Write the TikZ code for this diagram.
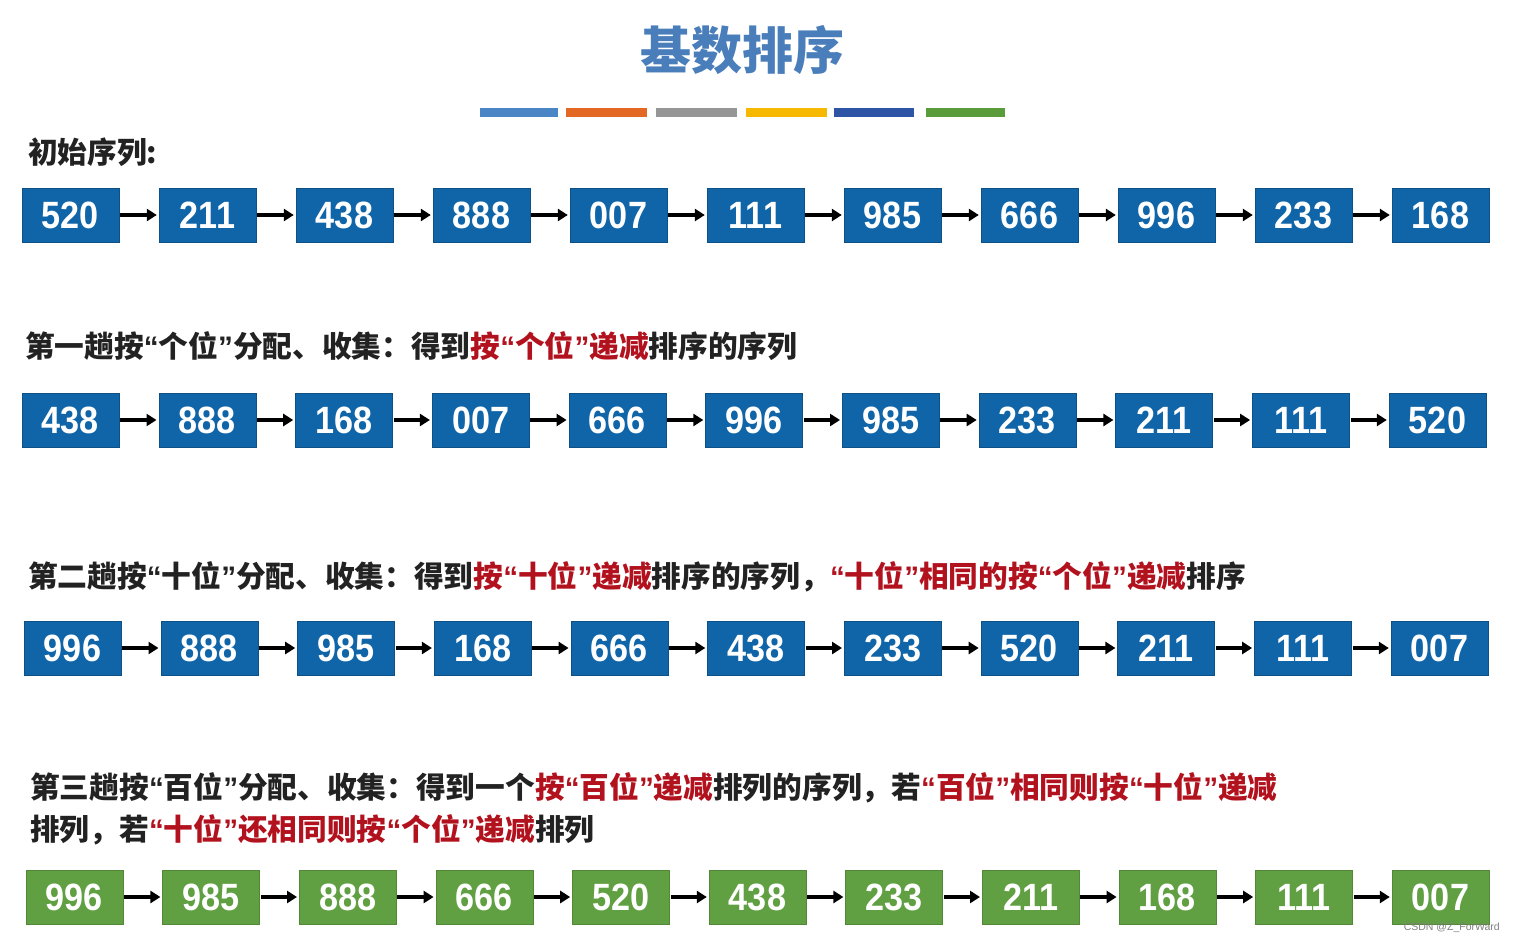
\documentclass[tikz,border=0pt]{standalone}
\usepackage{fontspec}
\setmainfont{Liberation Sans}
\newfontfamily\cjk{Noto Sans CJK SC}
\newfontfamily\numfont{Liberation Sans}[FakeStretch=0.9]
\usetikzlibrary{arrows.meta}
\definecolor{boxblue}{RGB}{16,101,168}
\definecolor{boxgreen}{RGB}{96,160,66}
\definecolor{keyred}{RGB}{178,18,30}
\definecolor{titleblue}{RGB}{74,126,187}
\definecolor{txtdark}{RGB}{34,34,34}
\newcommand{\hl}[1]{\textcolor{keyred}{#1}}
\newcommand{\oq}{{\rmfamily“}}
\newcommand{\cq}{{\rmfamily”}}

\begin{document}
\begin{tikzpicture}[x=1pt, y=-1pt,
    box/.style={draw=boxblue!80!black, fill=boxblue, minimum width=97pt, minimum height=54pt,
        inner sep=0pt, text=white, font=\numfont\bfseries\fontsize{38}{38}\selectfont},
    gbox/.style={box, draw=boxgreen!85!black, fill=boxgreen},
    arr/.style={line width=3.2pt, -{Triangle[length=10pt,width=12pt]}, shorten <=1pt, shorten >=2pt},
    lbl/.style={anchor=west, inner sep=0pt, text=txtdark, font=\cjk\bfseries\fontsize{29.7}{34}\selectfont},
    bar/.style={draw=none}]
            \useasboundingbox (0,0) rectangle (1516,934);
            \node[text=titleblue, font=\cjk\bfseries\fontsize{51}{51}\selectfont] (title) at (742,50) {基数排序};
            \fill[bar, fill={rgb,255:red,74;green,134;blue,197}] (480,108) rectangle (558,117);
            \fill[bar, fill={rgb,255:red,226;green,104;blue,36}] (566,108) rectangle (647,117);
            \fill[bar, fill={rgb,255:red,150;green,150;blue,150}] (656,108) rectangle (737,117);
            \fill[bar, fill={rgb,255:red,246;green,184;blue,0}] (746,108) rectangle (827,117);
            \fill[bar, fill={rgb,255:red,46;green,84;blue,165}] (834,108) rectangle (914,117);
            \fill[bar, fill={rgb,255:red,90;green,156;blue,58}] (926,108) rectangle (1005,117);
            % initial sequence
            \node[lbl] (l0) at (28,152) {初始序列:};
            \node[box] (a1) at (70.5,215) {520};
            \node[box] (a2) at (207.5,215) {211};
            \node[box] (a3) at (344.5,215) {438};
            \node[box] (a4) at (481.5,215) {888};
            \node[box] (a5) at (618.5,215) {007};
            \node[box] (a6) at (755.5,215) {111};
            \node[box] (a7) at (892.5,215) {985};
            \node[box] (a8) at (1029.5,215) {666};
            \node[box] (a9) at (1166.5,215) {996};
            \node[box] (a10) at (1303.5,215) {233};
            \node[box] (a11) at (1440.5,215) {168};
            % first pass
            \node[lbl] (l1) at (25,346) {第一趟按\oq 个位\cq 分配、收集：得到\hl{按\oq 个位\cq 递减}排序的序列};
            \node[box] (b1) at (70.5,420) {438};
            \node[box] (b2) at (207.2,420) {888};
            \node[box] (b3) at (343.9,420) {168};
            \node[box] (b4) at (480.6,420) {007};
            \node[box] (b5) at (617.3,420) {666};
            \node[box] (b6) at (754,420) {996};
            \node[box] (b7) at (890.7,420) {985};
            \node[box] (b8) at (1027.4,420) {233};
            \node[box] (b9) at (1164.1,420) {211};
            \node[box] (b10) at (1300.8,420) {111};
            \node[box] (b11) at (1437.5,420) {520};
            % second pass
            \node[lbl] (l2) at (28,577) {第二趟按\oq 十位\cq 分配、收集：得到\hl{按\oq 十位\cq 递减}排序的序列，\hl{\oq 十位\cq 相同的按\oq 个位\cq 递减}排序};
            \node[box] (c1) at (72.5,648) {996};
            \node[box] (c2) at (209.2,648) {888};
            \node[box] (c3) at (345.9,648) {985};
            \node[box] (c4) at (482.6,648) {168};
            \node[box] (c5) at (619.3,648) {666};
            \node[box] (c6) at (756,648) {438};
            \node[box] (c7) at (892.7,648) {233};
            \node[box] (c8) at (1029.4,648) {520};
            \node[box] (c9) at (1166.1,648) {211};
            \node[box] (c10) at (1302.8,648) {111};
            \node[box] (c11) at (1439.5,648) {007};
            % third pass
            \node[lbl] (l3) at (30,788) {第三趟按\oq 百位\cq 分配、收集：得到一个\hl{按\oq 百位\cq 递减}排列的序列，若\hl{\oq 百位\cq 相同则按\oq 十位\cq 递减}};
            \node[lbl] (l3b) at (30,830) {排列，若\hl{\oq 十位\cq 还相同则按\oq 个位\cq 递减}排列};
            \node[gbox] (d1) at (74.5,897) {996};
            \node[gbox] (d2) at (211.1,897) {985};
            \node[gbox] (d3) at (347.7,897) {888};
            \node[gbox] (d4) at (484.3,897) {666};
            \node[gbox] (d5) at (620.9,897) {520};
            \node[gbox] (d6) at (757.5,897) {438};
            \node[gbox] (d7) at (894.1,897) {233};
            \node[gbox] (d8) at (1030.7,897) {211};
            \node[gbox] (d9) at (1167.3,897) {168};
            \node[gbox] (d10) at (1303.9,897) {111};
            \node[gbox] (d11) at (1440.5,897) {007};
            \draw[arr] (a1) -- (a2);
            \draw[arr] (a2) -- (a3);
            \draw[arr] (a3) -- (a4);
            \draw[arr] (a4) -- (a5);
            \draw[arr] (a5) -- (a6);
            \draw[arr] (a6) -- (a7);
            \draw[arr] (a7) -- (a8);
            \draw[arr] (a8) -- (a9);
            \draw[arr] (a9) -- (a10);
            \draw[arr] (a10) -- (a11);
            \draw[arr] (b1) -- (b2);
            \draw[arr] (b2) -- (b3);
            \draw[arr] (b3) -- (b4);
            \draw[arr] (b4) -- (b5);
            \draw[arr] (b5) -- (b6);
            \draw[arr] (b6) -- (b7);
            \draw[arr] (b7) -- (b8);
            \draw[arr] (b8) -- (b9);
            \draw[arr] (b9) -- (b10);
            \draw[arr] (b10) -- (b11);
            \draw[arr] (c1) -- (c2);
            \draw[arr] (c2) -- (c3);
            \draw[arr] (c3) -- (c4);
            \draw[arr] (c4) -- (c5);
            \draw[arr] (c5) -- (c6);
            \draw[arr] (c6) -- (c7);
            \draw[arr] (c7) -- (c8);
            \draw[arr] (c8) -- (c9);
            \draw[arr] (c9) -- (c10);
            \draw[arr] (c10) -- (c11);
            \draw[arr] (d1) -- (d2);
            \draw[arr] (d2) -- (d3);
            \draw[arr] (d3) -- (d4);
            \draw[arr] (d4) -- (d5);
            \draw[arr] (d5) -- (d6);
            \draw[arr] (d6) -- (d7);
            \draw[arr] (d7) -- (d8);
            \draw[arr] (d8) -- (d9);
            \draw[arr] (d9) -- (d10);
            \draw[arr] (d10) -- (d11);
            \node[anchor=east, inner sep=0pt, text=gray, font=\fontsize{10.5}{10.5}\selectfont] (wm) at (1500,928) {CSDN @Z\_ForWard};
        \end{tikzpicture}
\end{document}
